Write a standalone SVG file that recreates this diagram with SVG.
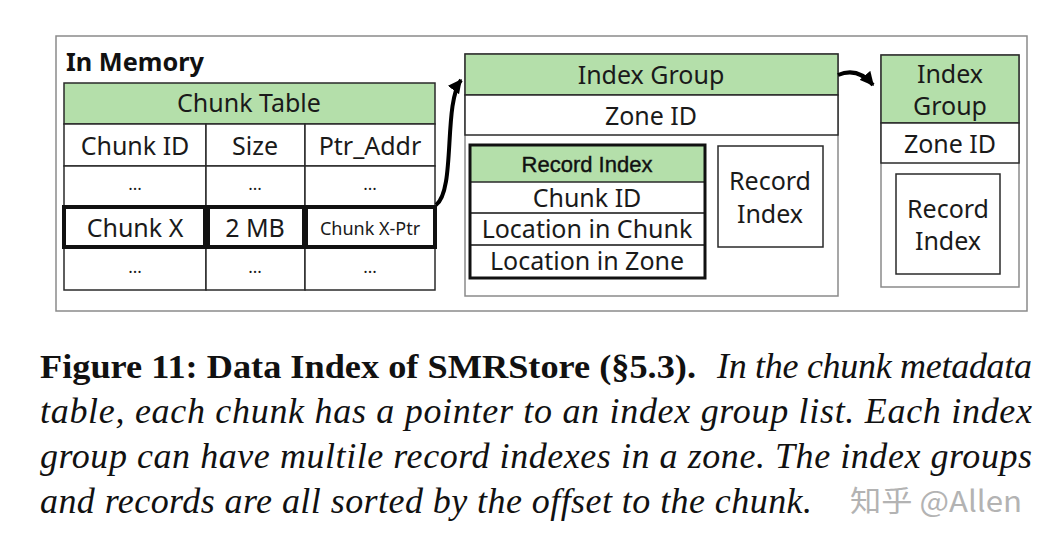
<svg xmlns="http://www.w3.org/2000/svg" width="1052" height="548" viewBox="0 0 1052 548">
<style>
.t{font-family:"Noto Sans","Liberation Sans",sans-serif;font-size:25px;fill:#1a1a1a;text-anchor:middle}
.dots{font-family:"Noto Sans","Liberation Sans",sans-serif;font-size:17px;fill:#1a1a1a;text-anchor:middle}
.g{fill:#b4dfaa;stroke:#2a2a2a;stroke-width:1.5}
.w{fill:#fff;stroke:#2a2a2a;stroke-width:1.5}
.thick{fill:#fff;stroke:#111;stroke-width:4}
.cont{fill:#fff;stroke:#8a8a8a;stroke-width:1.5}
.cap{font-family:"Liberation Serif","Times New Roman",serif;font-size:34px;fill:#111}
.it{font-size:36px;font-style:italic}
.conn{fill:none;stroke:#000;stroke-width:4}
</style>
<defs>
<marker id="ah" viewBox="0 0 10 10" refX="9" refY="5" markerWidth="14" markerHeight="14" markerUnits="userSpaceOnUse" orient="auto">
<path d="M0,0 L10,5 L0,10 z" fill="#000"/>
</marker>
</defs>
<rect width="1052" height="548" fill="#fff"/>
<rect x="56" y="36" width="971" height="275" fill="#fff" stroke="#8a8a8a" stroke-width="1.5"/>

<g id="in-memory">
<text x="66" y="71" font-family="Noto Sans,Liberation Sans,sans-serif" font-size="25" font-weight="bold" fill="#111" textLength="138" lengthAdjust="spacingAndGlyphs">In Memory</text>
</g>

<g id="chunk-table">
<rect class="g" x="64" y="83" width="371" height="41"/>
<text class="t" x="249" y="112">Chunk Table</text>
<rect class="w" x="64" y="124" width="142" height="42"/>
<rect class="w" x="206" y="124" width="99" height="42"/>
<rect class="w" x="305" y="124" width="130" height="42"/>
<text class="t" x="135" y="155">Chunk ID</text>
<text class="t" x="255" y="155">Size</text>
<text class="t" x="370" y="155">Ptr_Addr</text>
<rect class="w" x="64" y="166" width="142" height="40"/>
<rect class="w" x="206" y="166" width="99" height="40"/>
<rect class="w" x="305" y="166" width="130" height="40"/>
<text class="dots" x="135" y="190">...</text>
<text class="dots" x="255" y="190">...</text>
<text class="dots" x="370" y="190">...</text>
<rect class="w" x="64" y="248" width="142" height="42"/>
<rect class="w" x="206" y="248" width="99" height="42"/>
<rect class="w" x="305" y="248" width="130" height="42"/>
<text class="dots" x="135" y="273">...</text>
<text class="dots" x="255" y="273">...</text>
<text class="dots" x="370" y="273">...</text>
<rect class="thick" x="64" y="207" width="141" height="40"/>
<rect class="thick" x="208" y="207" width="96" height="40"/>
<rect class="thick" x="306" y="207" width="129" height="40"/>
<text class="t" x="135" y="237">Chunk X</text>
<text class="t" x="255" y="237">2 MB</text>
<text class="t" x="370" y="235" style="font-size:18px">Chunk X-Ptr</text>
</g>

<g id="index-group-1">
<rect class="cont" x="465" y="54" width="373" height="242"/>
<rect class="g" x="465" y="54" width="373" height="41"/>
<text class="t" x="651" y="84">Index Group</text>
<rect class="w" x="465" y="95" width="373" height="40"/>
<text class="t" x="651" y="125">Zone ID</text>
</g>

<g id="record-index-table">
<rect class="g" x="470" y="145" width="235" height="37"/>
<text x="587" y="172" text-anchor="middle" font-family="Liberation Sans,Arial,sans-serif" font-size="22" fill="#111" stroke="#111" stroke-width="0.4">Record Index</text>
<line x1="470" y1="213" x2="705" y2="213" stroke="#111" stroke-width="1.5"/>
<line x1="470" y1="245" x2="705" y2="245" stroke="#111" stroke-width="1.5"/>
<rect x="470" y="145" width="235" height="133" fill="none" stroke="#111" stroke-width="3"/>
<text class="t" x="587" y="207">Chunk ID</text>
<text class="t" x="587" y="238">Location in Chunk</text>
<text class="t" x="587" y="270">Location in Zone</text>
</g>

<g id="record-index-1">
<rect class="w" x="718" y="146" width="105" height="101"/>
<text class="t" x="770" y="190">Record</text>
<text class="t" x="770" y="223">Index</text>
</g>

<g id="index-group-2">
<rect class="cont" x="881" y="55" width="138" height="232"/>
<rect class="g" x="881" y="55" width="138" height="68"/>
<text class="t" x="950" y="83">Index</text>
<text class="t" x="950" y="115">Group</text>
<rect class="w" x="881" y="123" width="138" height="40"/>
<text class="t" x="950" y="153">Zone ID</text>
<rect class="w" x="896" y="174" width="104" height="100"/>
<text class="t" x="948" y="218">Record</text>
<text class="t" x="948" y="250">Index</text>
</g>

<g id="connectors">
<path class="conn" d="M436,205 C456,190 443,104 461,80" marker-end="url(#ah)"/>
<path class="conn" d="M838,75 C852,69 863,73 873,85" stroke-width="3.5" marker-end="url(#ah)"/>
</g>

<g id="caption">
<text class="cap" x="40" y="378" font-weight="bold" textLength="656" lengthAdjust="spacingAndGlyphs">Figure 11: Data Index of SMRStore (§5.3).</text>
<text class="cap it" x="717" y="378" textLength="315" lengthAdjust="spacing">In the chunk metadata</text>
<text class="cap it" x="40" y="423" textLength="992" lengthAdjust="spacing">table, each chunk has a pointer to an index group list. Each index</text>
<text class="cap it" x="40" y="468" textLength="992" lengthAdjust="spacing">group can have multile record indexes in a zone. The index groups</text>
<text class="cap it" x="40" y="513" textLength="772" lengthAdjust="spacing">and records are all sorted by the offset to the chunk.</text>
<text x="850" y="512" font-family="Noto Sans CJK SC,sans-serif" font-size="29" fill="#b3b3b3" textLength="172" lengthAdjust="spacingAndGlyphs">知乎 @Allen</text>
</g>
</svg>
